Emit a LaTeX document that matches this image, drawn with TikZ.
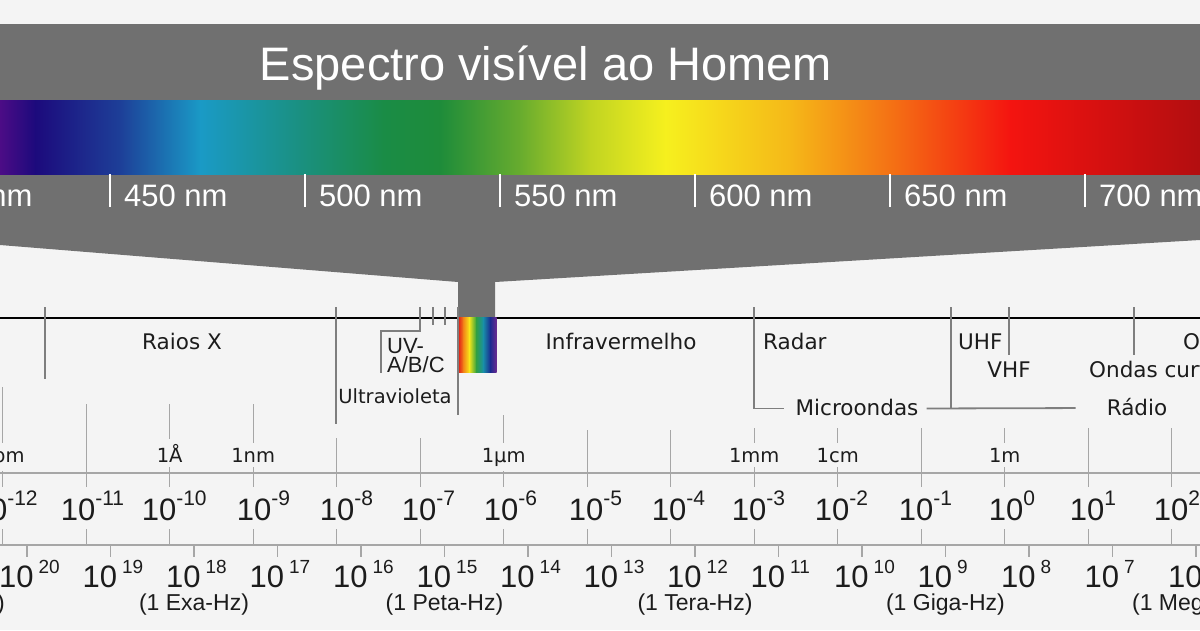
\documentclass[tikz,border=0pt]{standalone}
\usepackage{fontspec}
\setmainfont{Liberation Sans}
\newfontfamily\dejavu{DejaVu Sans}
\newcommand\expo[3]{\raisebox{#1}{\fontsize{#2}{#2}\selectfont #3}}
\definecolor{bgcol}{HTML}{F4F4F4}
\definecolor{funnel}{HTML}{707070}
\definecolor{edgecol}{HTML}{7E7E7E}
\definecolor{tickcol}{HTML}{A6A6A6}
\definecolor{txtcol}{HTML}{1C1C1C}
\definecolor{sp0}{HTML}{4C0C86}
\definecolor{sp1}{HTML}{1C0A7C}
\definecolor{sp2}{HTML}{1D3F98}
\definecolor{sp3}{HTML}{1A9AC6}
\definecolor{sp4}{HTML}{1A9080}
\definecolor{sp5}{HTML}{1A8C46}
\definecolor{sp6}{HTML}{1E8C3A}
\definecolor{sp7}{HTML}{68AC2E}
\definecolor{sp8}{HTML}{C0D422}
\definecolor{sp9}{HTML}{F6F01E}
\definecolor{sp10}{HTML}{F5B818}
\definecolor{sp11}{HTML}{F46A14}
\definecolor{sp12}{HTML}{F41410}
\definecolor{sp13}{HTML}{D21010}
\definecolor{sp14}{HTML}{B20E10}
\definecolor{rb0}{HTML}{E01818}
\definecolor{rb1}{HTML}{F28018}
\definecolor{rb2}{HTML}{F8E818}
\definecolor{rb3}{HTML}{30A040}
\definecolor{rb4}{HTML}{1890A8}
\definecolor{rb5}{HTML}{1A2A90}
\definecolor{rb6}{HTML}{6A2A90}

\begin{document}
\begin{tikzpicture}[x=1pt, y=-1pt,
  headtext/.style={text=white, font=\fontsize{47}{52}\selectfont, inner sep=0pt, anchor=base},
  nmtext/.style={text=white, font=\fontsize{31}{34}\selectfont, inner sep=0pt, anchor=base west},
  nmtick/.style={draw=white, line width=2pt},
  bandtext/.style={text=txtcol, font=\dejavu\fontsize{21.5}{24}\selectfont, inner sep=0pt, anchor=base},
  smalltext/.style={text=txtcol, font=\dejavu\fontsize{19.5}{22}\selectfont, inner sep=0pt, anchor=base},
  uvtext/.style={text=txtcol, font=\fontsize{22}{19}\selectfont, inner sep=0pt, align=left, anchor=north west},
  unittext/.style={smalltext, fill=bgcol, inner xsep=2pt, inner ysep=5pt},
  powtext/.style={text=txtcol, font=\fontsize{31}{34}\selectfont, inner sep=0pt, anchor=base west},
  freqtext/.style={text=txtcol, font=\fontsize{31}{34}\selectfont, inner sep=0pt, anchor=base west},
  hztext/.style={text=txtcol, font=\fontsize{23}{26}\selectfont, inner sep=0pt, anchor=base},
  bandline/.style={draw=edgecol, line width=1.8pt},
  scaletick/.style={draw=tickcol, line width=1.3pt},
  scaleaxis/.style={draw=tickcol, line width=1.6pt}]

  % background
  \fill[bgcol] (0,0) rectangle (1200,630);
  \clip (0,0) rectangle (1200,630);

  % funnel down to the visible band
  \fill[funnel] (0,24) -- (1200,24) -- (1200,240) -- (495,282) -- (495,318)
    -- (458,318) -- (458,282) -- (0,245) -- cycle;

  % colour bar
  \foreach \xa/\ca/\xb/\cb in {0/sp0/35/sp1, 35/sp1/120/sp2, 120/sp2/200/sp3,
      200/sp3/300/sp4, 300/sp4/383/sp5, 383/sp5/440/sp6, 440/sp6/520/sp7,
      520/sp7/590/sp8, 590/sp8/665/sp9, 665/sp9/790/sp10, 790/sp10/900/sp11,
      900/sp11/1010/sp12, 1010/sp12/1110/sp13, 1110/sp13/1200/sp14}
    \shade[left color=\ca, right color=\cb] (\xa,100) rectangle (\xb+0.8,174);

  \node[headtext] (title) at (546,80) {Espectro visível ao Homem};

  \foreach \w in {400,450,...,700} {
    \draw[nmtick] (110+3.9*\w-1755,174) -- (110+3.9*\w-1755,207);
    \node[nmtext] (nm\w) at (124+3.9*\w-1755,206) {\w{} nm};
  }

  % main line and small rainbow
  \draw[black, line width=1.6pt] (0,318) -- (1200,318);
  \foreach \xa/\ca/\xb/\cb in {458/rb0/463/rb1, 463/rb1/469/rb2, 469/rb2/476/rb3,
      476/rb3/483/rb4, 483/rb4/490/rb5, 490/rb5/496/rb6}
    \shade[left color=\ca, right color=\cb] (\xa,317) rectangle (\xb+0.5,372);

  % band labels
  \node[bandtext] (raiosx) at (182,349) {Raios X};
  \node[uvtext] (uv) at (387,338.5) {UV-\\A/B/C};
  \node[smalltext] (ultra) at (395,403) {Ultravioleta};
  \node[bandtext] (infra) at (621,349) {Infravermelho};
  \node[bandtext, anchor=base west] (radar) at (763,349) {Radar};
  \node[bandtext] (micro) at (857,415) {Microondas};
  \node[bandtext, anchor=base west] (uhf) at (958,349) {UHF};
  \node[bandtext] (vhf) at (1009,377) {VHF};
  \node[bandtext] (radio) at (1137,415) {Rádio};
  \node[bandtext, anchor=base west] (curtas) at (1089,377) {Ondas curtas};
  \node[bandtext, anchor=base west] (medias) at (1183,349) {Ondas médias};

  % band limits
  \draw[bandline] (45,307) -- (45,379);
  \draw[bandline] (336,307) -- (336,424);
  \draw[bandline] (420,307) -- (420,331) -- (381,331) -- (381,373);
  \draw[bandline] (433,307) -- (433,325);
  \draw[bandline] (445,307) -- (445,325);
  \draw[bandline] (458,307) -- (458,415);
  \draw[bandline] (754,307) |- ([xshift=-11pt,yshift=-1.5pt]micro.west);
  \draw[bandline] ([xshift=8pt,yshift=-1.5pt]micro.east) -- ([xshift=-31pt,yshift=-1.5pt]radio.west);
  \draw[bandline] (951,307) -- (951,409);
  \draw[bandline] (1009,307) -- (1009,355);
  \draw[bandline] (1134,307) -- (1134,355);

  % wavelength scale
  \draw[scaleaxis] (0,473) -- (1200,473);
  \draw[scaleaxis] (0,545) -- (1200,545);
  \foreach \k/\top in {0/387, 1/404, 2/404, 3/404, 4/438, 5/438, 6/415, 7/430,
      8/430, 9/428, 10/428, 11/428, 12/428, 13/428, 14/428} {
    \draw[scaletick] (2.7+83.5*\k,\top) -- (2.7+83.5*\k,487);
    \draw[scaletick] (2.7+83.5*\k,529) -- (2.7+83.5*\k,545);
  }
  \foreach \k/\u in {0/1pm, 2/1Å, 3/1nm, 6/1μm, 9/1mm, 10/1cm, 12/1m}
    \node[unittext] (unit\k) at (2.7+83.5*\k,462) {\u};
  \foreach \k/\e/\ink in {0/-12/-24, 1/-11/64, 2/-10/145, 3/-9/240, 4/-8/323,
      5/-7/405, 6/-6/487, 7/-5/572, 8/-4/655, 9/-3/735, 10/-2/818, 11/-1/902,
      12/0/992, 13/1/1073, 14/2/1157}
    \node[powtext] (wl\k) at (\ink-3.4,520) {10\expo{14.5pt}{21}{\e}};

  % frequency scale
  \foreach \n in {6,...,21} {
    \draw[scaletick] (1697-83.5*\n,545) -- (1697-83.5*\n,557);
    \node[freqtext] (fq\n) at (1669-83.5*\n,587) {10\hspace{5pt}\expo{14pt}{19}{\n}};
  }
  \foreach \n/\p in {21/Zetta, 18/Exa, 15/Peta, 12/Tera, 9/Giga, 6/Mega}
    \node[hztext] (hz\n) at (1697-83.5*\n,610) {(1 \p-Hz)};
\end{tikzpicture}
\end{document}
